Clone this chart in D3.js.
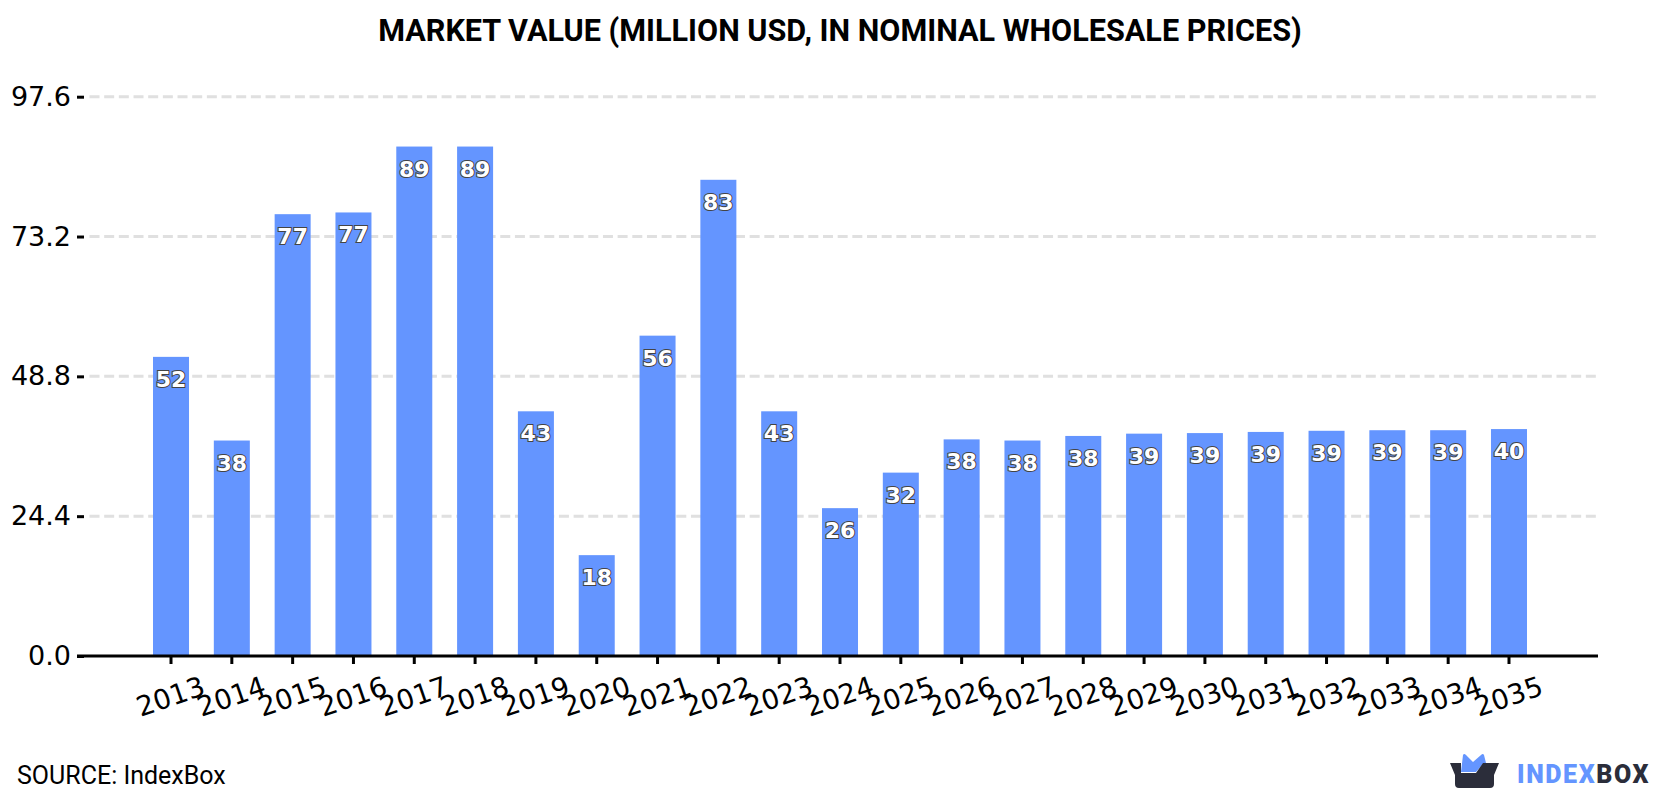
<!DOCTYPE html>
<html>
<head>
<meta charset="utf-8">
<script src="https://cdn.jsdelivr.net/npm/d3@7/dist/d3.min.js"></script>
<style>
html,body{margin:0;padding:0;background:#fff;overflow:hidden}
text{fill:#000}
</style>
</head>
<body>
<svg id="chart" width="1680" height="800"></svg>
<script>
const titleText = "MARKET VALUE (MILLION USD, IN NOMINAL WHOLESALE PRICES)";
const sourceText = "SOURCE: IndexBox";
const years = ["2013","2014","2015","2016","2017","2018","2019","2020","2021","2022","2023","2024","2025","2026","2027","2028","2029","2030","2031","2032","2033","2034","2035"];
const marketValue = [52.2,37.6,77.1,77.4,88.9,88.9,42.7,17.6,55.9,83.1,42.7,25.8,32.0,37.8,37.6,38.4,38.8,38.9,39.1,39.3,39.4,39.4,39.6];
const yTicks = [0,24.4,48.8,73.2,97.6];

const svg = d3.select("#chart");
const x = d3.scaleBand().domain(years).range([140.6,1539.4]).paddingInner(0.408).paddingOuter(0.204);
const y = d3.scaleLinear().domain([0,97.6]).range([656,96.7]);

// dashed horizontal grid, behind the bars
svg.append("g").selectAll("line").data(yTicks.slice(1)).join("line")
  .attr("x1",89.5).attr("x2",1596).attr("y1",d=>y(d)).attr("y2",d=>y(d))
  .attr("stroke","#e0e0e0").attr("stroke-width",3).attr("stroke-dasharray","10 4.67");

svg.append("g").selectAll("rect").data(years).join("rect")
  .attr("x",d=>x(d)).attr("width",x.bandwidth())
  .attr("y",(d,i)=>y(marketValue[i])).attr("height",(d,i)=>y(0)-y(marketValue[i]))
  .attr("fill","#6495ff");

// y axis: labels and short ticks only
const yAxis = svg.append("g").attr("transform","translate(84,0)")
  .call(d3.axisLeft(y).tickValues(yTicks).tickFormat(d3.format(".1f")).tickSize(7).tickPadding(6));
yAxis.select(".domain").remove();
yAxis.selectAll("line").attr("stroke","#000").attr("stroke-width",3);
yAxis.selectAll("text").attr("font-family","'DejaVu Sans'").attr("font-size",27).attr("fill","#000");

// x axis with slanted year labels
const xAxis = svg.append("g").attr("transform","translate(0,656)")
  .call(d3.axisBottom(x).tickSize(8).tickPadding(0));
xAxis.select(".domain").remove();
xAxis.append("line").attr("x1",77).attr("x2",1598).attr("stroke","#000").attr("stroke-width",3);
xAxis.selectAll(".tick line").attr("stroke","#000").attr("stroke-width",3);
xAxis.selectAll(".tick text")
  .attr("font-family","'DejaVu Sans'").attr("font-size",27.5).attr("fill","#000")
  .attr("text-anchor","middle").attr("dy",0)
  .attr("transform","translate(0,42) rotate(-19)");

// value labels inside the bars
svg.append("g").selectAll("text").data(years).join("text")
  .attr("x",d=>x(d)+x.bandwidth()/2)
  .attr("y",(d,i)=>y(marketValue[i])+30)
  .attr("text-anchor","middle")
  .attr("font-family","'DejaVu Sans'").attr("font-weight","bold").attr("font-size",22)
  .attr("stroke","#444").attr("stroke-width",2).attr("paint-order","stroke")
  .style("fill","#fff")
  .text((d,i)=>Math.round(marketValue[i]));

svg.append("text").attr("x",840).attr("y",41).attr("text-anchor","middle")
  .attr("font-family","Roboto").attr("font-weight","bold").attr("font-size",30.6).text(titleText);

svg.append("text").attr("x",17).attr("y",784)
  .attr("font-family","Roboto").attr("font-size",25).text(sourceText);

// brand mark: an open box with a blue crown, then the wordmark
const logo = svg.append("g");
logo.append("path").attr("fill","#6495ff")
  .attr("d","M1461 772 L1463 755 Q1464 753 1466 755 L1473 762 L1481 755 Q1483 753 1484 755 L1486 763 L1483 764 L1476 772 Z");
logo.append("path").attr("fill","#2b2d3a")
  .attr("d","M1450 763 L1461 763 L1461 773 L1476 773 L1483 763 L1499 763 L1494 775 L1494 784 Q1494 788 1490 788 L1459 788 Q1455 788 1455 784 L1455 775 Z");
logo.append("text").attr("x",1517).attr("y",783)
  .attr("font-family","Roboto").attr("font-weight","900").attr("font-size",25).attr("letter-spacing",1.6)
  .html('<tspan style="fill:#6495ff">INDEX</tspan><tspan style="fill:#2b2d3a">BOX</tspan>');
</script>
</body>
</html>
